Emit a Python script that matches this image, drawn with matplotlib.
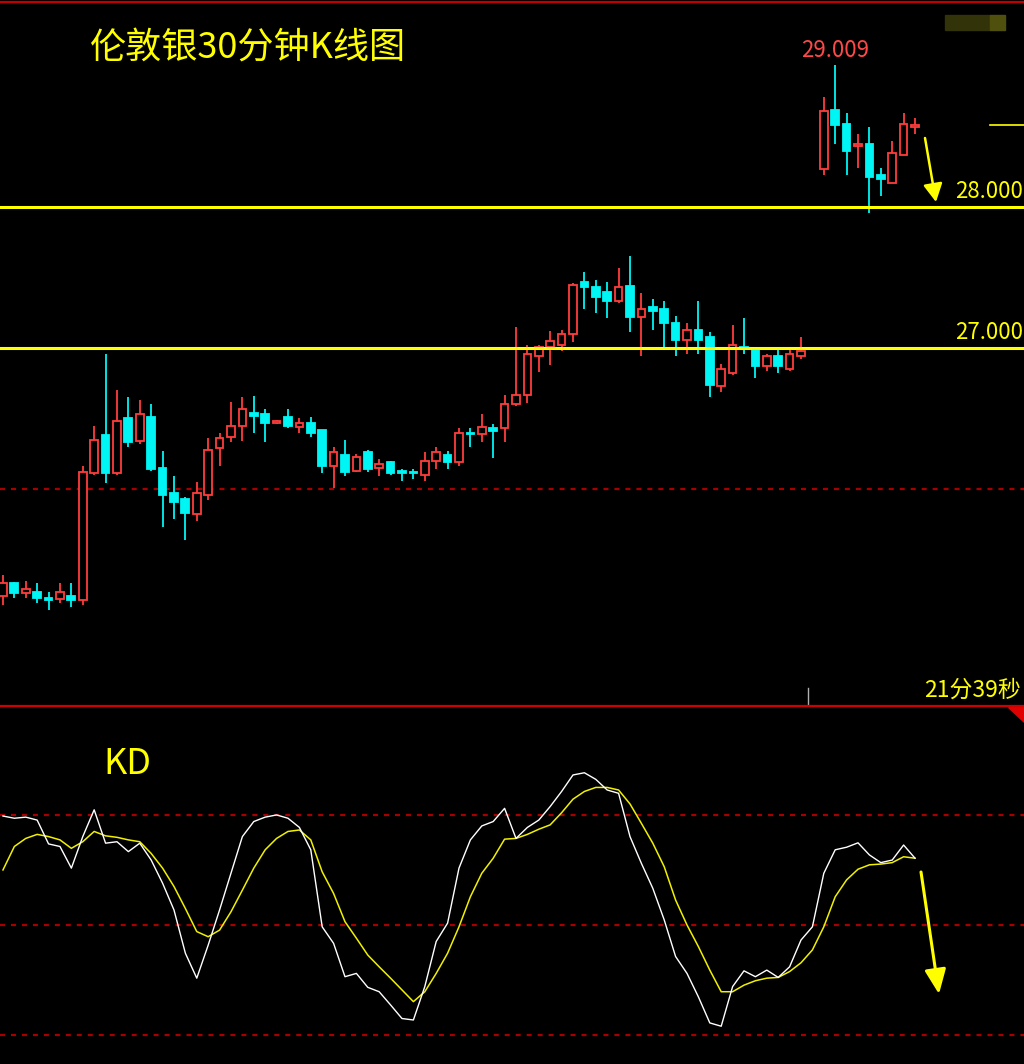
import matplotlib.pyplot as plt
from matplotlib.patches import Polygon, Rectangle
import numpy as np

plt.rcParams['font.family'] = ['Noto Sans CJK SC', 'DejaVu Sans']
plt.rcParams['lines.scale_dashes'] = False

# 30 minute candles, London silver
opens = [25.24, 25.33, 25.26, 25.27, 25.23, 25.22, 25.24, 25.21, 26.11, 26.38,
         26.11, 26.50, 26.34, 26.51, 26.15, 25.97, 25.93, 25.82, 25.96, 26.29,
         26.37, 26.45, 26.54, 26.53, 26.47, 26.51, 26.44, 26.47, 26.42, 26.16,
         26.24, 26.13, 26.26, 26.15, 26.19, 26.13, 26.12, 26.10, 26.20, 26.24,
         26.19, 26.40, 26.39, 26.43, 26.43, 26.60, 26.67, 26.94, 27.01, 27.02,
         27.10, 27.47, 27.43, 27.40, 27.33, 27.44, 27.22, 27.29, 27.28, 27.18,
         27.06, 27.13, 27.08, 26.73, 26.82, 27.01, 26.99, 26.87, 26.94, 26.85,
         26.94, 26.99, 28.27, 28.69, 28.59, 28.43, 28.45, 28.23, 28.17, 28.37,
         28.57]
highs = [25.39, 25.34, 25.35, 25.33, 25.27, 25.33, 25.33, 26.16, 26.45, 26.96,
         26.70, 26.65, 26.63, 26.60, 26.27, 26.09, 25.94, 26.05, 26.36, 26.40,
         26.62, 26.65, 26.66, 26.57, 26.49, 26.57, 26.50, 26.51, 26.42, 26.30,
         26.35, 26.25, 26.28, 26.21, 26.20, 26.14, 26.14, 26.26, 26.30, 26.27,
         26.43, 26.43, 26.53, 26.46, 26.67, 27.15, 27.02, 27.02, 27.12, 27.13,
         27.46, 27.54, 27.48, 27.47, 27.57, 27.65, 27.39, 27.35, 27.33, 27.23,
         27.18, 27.33, 27.11, 26.89, 27.16, 27.21, 27.01, 26.96, 26.99, 27.00,
         27.08, 26.99, 28.78, 29.009, 28.67, 28.52, 28.57, 28.28, 28.47, 28.67,
         28.63]
lows = [25.18, 25.23, 25.23, 25.19, 25.14, 25.19, 25.16, 25.18, 26.10, 26.04,
        26.10, 26.30, 26.32, 26.13, 25.73, 25.79, 25.64, 25.77, 25.92, 26.16,
        26.33, 26.34, 26.40, 26.33, 26.46, 26.43, 26.40, 26.37, 26.11, 26.01,
        26.09, 26.12, 26.12, 26.09, 26.10, 26.06, 26.07, 26.06, 26.14, 26.14,
        26.16, 26.30, 26.33, 26.22, 26.33, 26.59, 26.61, 26.83, 26.88, 26.98,
        27.04, 27.28, 27.25, 27.21, 27.32, 27.11, 26.94, 27.13, 27.01, 26.94,
        26.96, 26.96, 26.65, 26.69, 26.81, 26.96, 26.79, 26.84, 26.82, 26.84,
        26.92, 26.99, 28.23, 28.45, 28.23, 28.28, 27.96, 28.08, 28.17, 28.37,
        28.52]
closes = [25.33, 25.26, 25.29, 25.23, 25.21, 25.27, 25.21, 26.12, 26.35, 26.11,
          26.48, 26.33, 26.53, 26.14, 25.96, 25.91, 25.83, 25.97, 26.28, 26.36,
          26.45, 26.57, 26.52, 26.47, 26.48, 26.45, 26.47, 26.40, 26.16, 26.26,
          26.12, 26.23, 26.14, 26.18, 26.11, 26.11, 26.11, 26.20, 26.26, 26.19,
          26.40, 26.39, 26.44, 26.41, 26.60, 26.67, 26.96, 27.01, 27.05, 27.10,
          27.45, 27.43, 27.36, 27.33, 27.43, 27.22, 27.28, 27.26, 27.18, 27.06,
          27.13, 27.06, 26.74, 26.85, 27.02, 27.00, 26.87, 26.94, 26.87, 26.96,
          26.98, 26.99, 28.68, 28.58, 28.40, 28.45, 28.21, 28.20, 28.38, 28.59,
          28.58]

# KD indicator
k_vals = [79.7, 79.1, 79.4, 78.6, 72.1, 71.4, 65.5, 74.1, 81.4, 72.3,
          72.7, 70.0, 72.3, 67.7, 61.4, 54.1, 42.3, 35.5, 44.5, 54.1,
          64.1, 74.1, 78.2, 79.4, 80.0, 79.1, 76.6, 70.5, 49.5, 45.0,
          35.9, 36.8, 33.0, 31.8, 28.2, 24.5, 24.1, 33.2, 45.5, 50.5,
          65.5, 73.2, 77.0, 78.2, 81.8, 73.6, 76.6, 78.6, 82.3, 86.4,
          90.9, 91.5, 89.7, 86.8, 85.9, 74.1, 66.8, 60.0, 51.4, 41.4,
          36.8, 30.4, 23.3, 22.4, 33.2, 37.5, 35.9, 37.7, 35.7, 38.6,
          45.9, 49.5, 64.1, 70.5, 71.2, 72.4, 69.1, 67.0, 67.7, 71.8,
          68.2]
d_vals = [65.0, 71.4, 73.6, 74.7, 74.1, 73.2, 70.9, 72.7, 75.5, 74.3,
          73.9, 73.2, 72.7, 69.5, 65.5, 60.5, 54.5, 48.2, 46.8, 48.6,
          53.6, 59.5, 65.5, 70.5, 73.6, 75.5, 75.9, 73.2, 64.5, 58.6,
          50.9, 46.4, 41.8, 38.6, 35.5, 32.3, 29.1, 31.8, 36.8, 42.3,
          49.5, 57.7, 64.1, 68.2, 73.4, 73.6, 74.7, 76.1, 77.3, 80.6,
          84.3, 86.4, 87.5, 87.5, 86.8, 83.0, 77.7, 72.3, 65.9, 56.8,
          50.0, 44.1, 37.7, 31.8, 31.8, 33.6, 34.8, 35.5, 35.7, 37.3,
          39.7, 43.2, 49.5, 57.7, 62.3, 65.2, 66.4, 66.6, 67.0, 68.6,
          68.2]

key_levels = [28.0, 27.0]
kd_levels = [80, 50, 20]

RED = '#ff3c3c'
CYAN = '#00f5f5'
YEL = '#ffff00'
DRED = '#a80000'

W, H = 1024, 1064
fig = plt.figure(figsize=(W / 100, H / 100), dpi=100, facecolor='black')
ax1 = fig.add_axes([0, 1 - 706 / H, 1, 706 / H], facecolor='black')
ax2 = fig.add_axes([0, 0, 1, 1 - 706 / H], facecolor='black')

x = np.arange(len(opens))
xlim = (-0.26, 89.56)

# candles
for i in x:
    o, h, l, c = opens[i], highs[i], lows[i], closes[i]
    if c > o:
        col, face = RED, 'black'
    elif c < o:
        col, face = CYAN, CYAN
    else:
        col, face = '#e0e0e0', '#e0e0e0'
    ax1.vlines(i, l, h, color=col, lw=1.3, zorder=2)
    ax1.bar(i, max(abs(c - o), 0.008), bottom=min(o, c), width=0.68,
            color=face, edgecolor=col, linewidth=1.3, zorder=3)

for lv in key_levels:
    ax1.axhline(lv, color=YEL, lw=2.2, zorder=4)
    ax1.annotate(f'{lv:.3f}', xy=(1, lv), xycoords=ax1.get_yaxis_transform(),
                 xytext=(-1, 3), textcoords='offset points', ha='right', va='bottom',
                 color=YEL, fontsize=16, zorder=5)
ax1.axhline(26.0, color=DRED, lw=1.6, ls=(0, (3.6, 4.3)), zorder=1)
ax1.axhline(closes[-1], xmin=990 / W, xmax=1, color=YEL, lw=1.2)

imax = int(np.argmax(highs))
ax1.annotate(f'{highs[imax]:.3f}', xy=(imax, highs[imax]), xytext=(0, 10),
             textcoords='offset points', ha='center', va='center',
             color='#ff4848', fontsize=16)

ax1.text(90 / W, 1 - 48 / 706, '伦敦银30分钟K线图', transform=ax1.transAxes,
         color=YEL, fontsize=26, va='center', ha='left')
ax1.text(1021 / W, 16 / 706, '21分39秒', transform=ax1.transAxes,
         color=YEL, fontsize=16.5, va='center', ha='right')
ax1.plot([70.6, 70.6], [0, 18 / 706], color='#b0b0b0', lw=1,
         transform=ax1.get_xaxis_transform())

ax1.set_xlim(*xlim)
ax1.set_ylim(24.461, 29.468)
ax1.axis('off')

# KD panel
ax2.plot(x, k_vals, color='white', lw=1.0, zorder=3)
ax2.plot(x, d_vals, color='#f0f000', lw=1.1, zorder=2)
for lv in kd_levels:
    ax2.axhline(lv, color=DRED, lw=1.6, ls=(0, (3.6, 4.3)), zorder=1)
ax2.text(103 / W, 1 - 58 / 358, 'KD', transform=ax2.transAxes, color=YEL,
         fontsize=26, va='center', ha='left')
ax2.set_xlim(*xlim)
ax2.set_ylim(12.1, 109.7)
ax2.axis('off')

# separators and markers
fig.add_artist(plt.Line2D([0, 1], [1 - 706 / H, 1 - 706 / H], color='#d00000',
                          lw=1.6, transform=fig.transFigure))
fig.add_artist(plt.Line2D([0, 1], [1 - 1.5 / H, 1 - 1.5 / H], color='#c00000',
                          lw=1.6, transform=fig.transFigure))
fig.add_artist(Polygon([[1008 / W, 1 - 707 / H], [1, 1 - 707 / H], [1, 1 - 722 / H]],
                       closed=True, color='#e00000', transform=fig.transFigure))
fig.add_artist(Rectangle((945 / W, 1 - 30 / H), 45 / W, 15 / H, color='#33330a',
                         transform=fig.transFigure))
fig.add_artist(Rectangle((990 / W, 1 - 30 / H), 15 / W, 15 / H, color='#50500e',
                         transform=fig.transFigure))

# arrows
ax1.annotate('', xy=(936, H - 202), xycoords='figure pixels',
             xytext=(925, H - 138), textcoords='figure pixels',
             arrowprops=dict(arrowstyle='-|>,head_length=1.1,head_width=0.58',
                             mutation_scale=10, color=YEL, lw=1.8,
                             shrinkA=0, shrinkB=0))
ax2.annotate('', xy=(939, H - 994), xycoords='figure pixels',
             xytext=(921, H - 872), textcoords='figure pixels',
             arrowprops=dict(arrowstyle='-|>,head_length=1.5,head_width=0.65',
                             mutation_scale=10, color=YEL, lw=2.2,
                             shrinkA=0, shrinkB=0))

fig.savefig('out.png', dpi=100, facecolor='black')
